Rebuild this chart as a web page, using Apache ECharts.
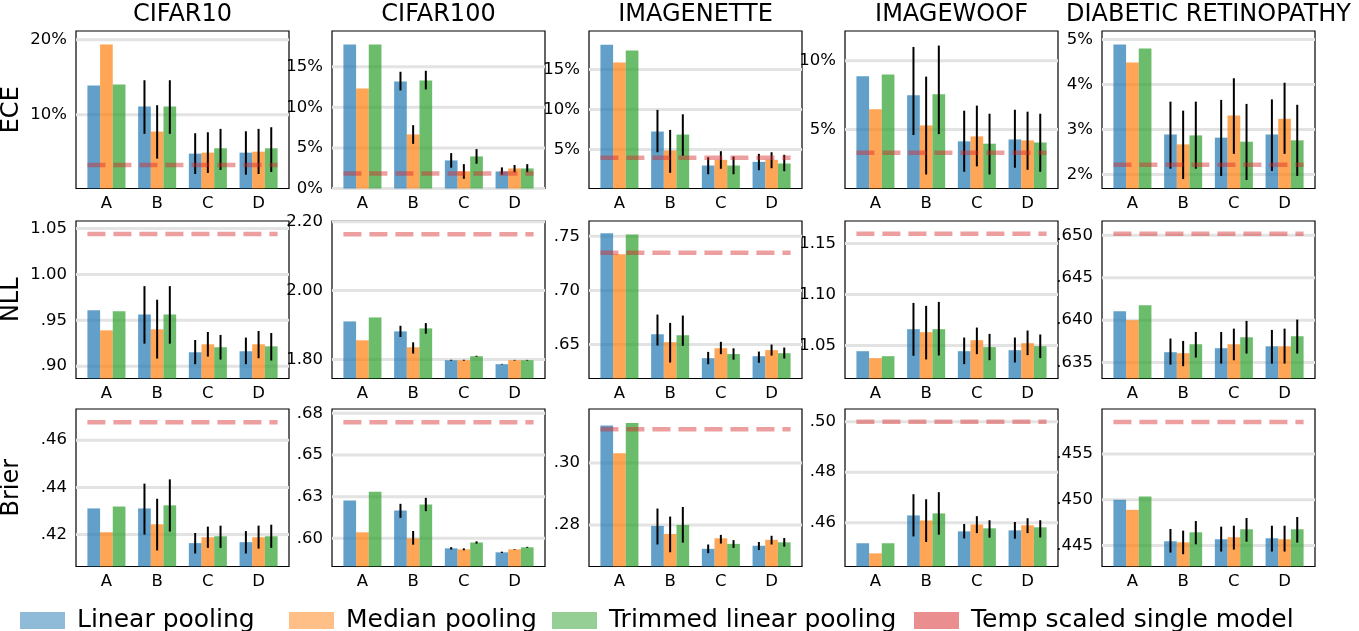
<!DOCTYPE html>
<html><head><meta charset="utf-8">
<script src="https://cdn.jsdelivr.net/npm/echarts@6/dist/echarts.min.js"></script>
<style>html,body{margin:0;padding:0;background:#fff}#c{width:1359px;height:631px}</style>
</head><body><div id="c"></div>
<script>
// ---------------- DATA ----------------
const datasets = ['CIFAR10', 'CIFAR100', 'IMAGENETTE', 'IMAGEWOOF', 'DIABETIC RETINOPATHY'];
const metrics = ['ECE', 'NLL', 'Brier'];
const groups = ['A', 'B', 'C', 'D'];
const methods = ['Linear pooling', 'Median pooling', 'Trimmed linear pooling'];
const baselineName = 'Temp scaled single model';

// ECE (%), per dataset: [method][group]
const eceMean = [
  [[13.9, 11.1, 4.84, 4.97], [19.37, 7.77, 4.97, 5.1], [14.04, 11.1, 5.55, 5.55]],
  [[17.75, 13.19, 3.46, 2.1], [12.33, 6.66, 2.12, 2.47], [17.75, 13.3, 3.95, 2.47]],
  [[18.1, 7.25, 3.0, 3.46], [15.9, 4.87, 3.71, 3.71], [17.4, 6.87, 3.0, 3.25]],
  [[8.86, 7.48, 4.13, 4.27], [6.46, 5.29, 4.49, 4.2], [9.0, 7.55, 3.96, 4.05]],
  [[4.89, 2.89, 2.82, 2.89], [4.49, 2.67, 3.31, 3.24], [4.8, 2.87, 2.73, 2.76]]
];
const eceLow = [
  [[null, 7.47, 2.13, 2.04], [null, 4.17, 2.27, 2.13], [null, 7.47, 2.67, 2.4]],
  [[null, 12.08, 2.56, 1.7], [null, 5.5, 1.2, 2.0], [null, 12.2, 3.05, 2.0]],
  [[null, 4.66, 1.91, 2.41], [null, 2.09, 2.59, 2.66], [null, 4.21, 1.91, 2.29]],
  [[null, 4.59, 1.92, 2.21], [null, 1.72, 2.31, 2.06], [null, 4.66, 1.72, 1.92]],
  [[null, 2.13, 1.97, 2.08], [null, 1.9, 2.46, 2.46], [null, 2.13, 1.88, 1.97]]
];
const eceHigh = [
  [[null, 14.6, 7.55, 7.81], [null, 11.28, 7.68, 8.13], [null, 14.6, 8.13, 8.35]],
  [[null, 14.38, 4.36, 2.6], [null, 7.8, 3.0, 2.9], [null, 14.5, 4.85, 3.0]],
  [[null, 9.96, 4.04, 4.46], [null, 7.46, 4.79, 4.66], [null, 9.41, 4.13, 4.34]],
  [[null, 11.0, 6.36, 6.43], [null, 8.84, 6.73, 6.29], [null, 11.1, 6.14, 6.14]],
  [[null, 3.62, 3.66, 3.67], [null, 3.42, 4.14, 4.04], [null, 3.62, 3.57, 3.55]]
];
const eceBaseline = [3.33, 1.85, 3.96, 3.30, 2.22];
const eceRange = [[0.2, 21.15], [0, 19.4], [0.125, 19.83], [0.7, 12.16], [1.69, 5.19]];
const eceTicks = [[10, 20], [0, 5, 10, 15], [5, 10, 15], [5, 10], [2, 3, 4, 5]];
const eceTickLabels = [['10%', '20%'], ['0%', '5%', '10%', '15%'], ['5%', '10%', '15%'], ['5%', '10%'], ['2%', '3%', '4%', '5%']];

// NLL
const nllMean = [
  [[0.9609, 0.9565, 0.9152, 0.9163], [0.9391, 0.9402, 0.9239, 0.9239], [0.9598, 0.9565, 0.9207, 0.9217]],
  [[1.9106, 1.8817, 1.798, 1.7865], [1.8558, 1.8356, 1.798, 1.798], [1.9221, 1.8904, 1.8096, 1.798]],
  [[0.7528, 0.6595, 0.6374, 0.6392], [0.7334, 0.6522, 0.6466, 0.6448], [0.7518, 0.6586, 0.6412, 0.642]],
  [[1.0444, 1.066, 1.0444, 1.0454], [1.0376, 1.0631, 1.0552, 1.0523], [1.0395, 1.066, 1.0484, 1.0493]],
  [[0.64105, 0.63622, 0.63669, 0.63692], [0.63999, 0.6361, 0.63716, 0.63692], [0.64175, 0.63716, 0.63798, 0.6381]]
];
const nllLow = [
  [[null, 0.9246, 0.9022, 0.9022], [null, 0.9083, 0.9105, 0.9087], [null, 0.9246, 0.9072, 0.9062]],
  [[null, 1.8654, 1.7966, 1.7856], [null, 1.8173, 1.7966, 1.797], [null, 1.875, 1.8082, 1.797]],
  [[null, 0.6491, 0.6318, 0.6331], [null, 0.6334, 0.6411, 0.6398], [null, 0.6488, 0.636, 0.6371]],
  [[null, 1.0399, 1.0317, 1.0333], [null, 1.0363, 1.0415, 1.0405], [null, 1.0402, 1.0356, 1.0376]],
  [[null, 0.63476, 0.63488, 0.63488], [null, 0.63457, 0.63527, 0.63488], [null, 0.63559, 0.63606, 0.63606]]
];
const nllHigh = [
  [[null, 0.9873, 0.9286, 0.9312], [null, 0.9725, 0.9373, 0.9384], [null, 0.9873, 0.9341, 0.9362]],
  [[null, 1.898, 1.7994, 1.7874], [null, 1.85, 1.7994, 1.799], [null, 1.9058, 1.811, 1.799]],
  [[null, 0.6777, 0.6432, 0.6435], [null, 0.67, 0.6525, 0.65], [null, 0.6768, 0.6465, 0.6472]],
  [[null, 1.0918, 1.0578, 1.0578], [null, 1.0889, 1.0676, 1.0647], [null, 1.0928, 1.0614, 1.0608]],
  [[null, 0.63783, 0.63861, 0.63885], [null, 0.63755, 0.639, 0.639], [null, 0.63861, 0.63991, 0.64007]]
];
const nllBaseline = [1.0442, 2.1635, 0.7349, 1.1598, 0.6502];
const nllRange = [[0.8866, 1.0583], [1.745, 2.202], [0.6186, 0.7642], [1.0176, 1.1722], [0.63312, 0.65169]];
const nllTicks = [[0.90, 0.95, 1.00, 1.05], [1.8, 2.0, 2.2], [0.65, 0.70, 0.75], [1.05, 1.10, 1.15], [0.635, 0.640, 0.645, 0.650]];
const nllTickLabels = [['.90', '.95', '1.00', '1.05'], ['1.80', '2.00', '2.20'], ['.65', '.70', '.75'], ['1.05', '1.10', '1.15'], ['.635', '.640', '.645', '.650']];

// Brier
const brierMean = [
  [[0.4311, 0.4311, 0.4164, 0.4168], [0.421, 0.4244, 0.4189, 0.4189], [0.4319, 0.4324, 0.4193, 0.4193]],
  [[0.6227, 0.6167, 0.594, 0.5916], [0.6036, 0.6, 0.5934, 0.5934], [0.628, 0.6203, 0.5975, 0.5946]],
  [[0.3121, 0.2797, 0.2723, 0.2733], [0.3031, 0.2771, 0.2757, 0.2752], [0.3129, 0.28, 0.2739, 0.2744]],
  [[0.4519, 0.4629, 0.4566, 0.457], [0.4479, 0.4609, 0.4593, 0.459], [0.4519, 0.4637, 0.4578, 0.4582]],
  [[0.450, 0.44547, 0.44569, 0.4458], [0.4489, 0.44536, 0.44591, 0.44569], [0.45036, 0.44645, 0.44678, 0.44678]]
];
const brierLow = [
  [[null, 0.42, 0.412, 0.412], [null, 0.4133, 0.4144, 0.4141], [null, 0.4213, 0.4144, 0.4144]],
  [[null, 0.6123, 0.5933, 0.5912], [null, 0.5962, 0.5928, 0.5932], [null, 0.6163, 0.5968, 0.5943]],
  [[null, 0.2737, 0.2709, 0.2719], [null, 0.2712, 0.274, 0.2737], [null, 0.2743, 0.2726, 0.273]],
  [[null, 0.4546, 0.4538, 0.4537], [null, 0.4524, 0.4559, 0.4559], [null, 0.4553, 0.4541, 0.4542]],
  [[null, 0.44424, 0.44435, 0.44435], [null, 0.44406, 0.44457, 0.44435], [null, 0.44514, 0.44543, 0.44533]]
];
const brierHigh = [
  [[null, 0.4416, 0.4207, 0.4215], [null, 0.4352, 0.4234, 0.4238], [null, 0.4434, 0.4238, 0.4242]],
  [[null, 0.6207, 0.5947, 0.592], [null, 0.6044, 0.594, 0.5936], [null, 0.6243, 0.5982, 0.5949]],
  [[null, 0.2853, 0.2737, 0.2745], [null, 0.2827, 0.2768, 0.2765], [null, 0.2858, 0.2751, 0.2758]],
  [[null, 0.4713, 0.4595, 0.4603], [null, 0.4693, 0.4626, 0.4618], [null, 0.4721, 0.461, 0.461]],
  [[null, 0.44681, 0.44707, 0.44717], [null, 0.44663, 0.44717, 0.44717], [null, 0.44768, 0.44801, 0.44812]]
];
const brierBaseline = [0.4676, 0.6696, 0.3109, 0.50, 0.45848];
const brierRange = [[0.4065, 0.4732], [0.5831, 0.6776], [0.2666, 0.3174], [0.4427, 0.505], [0.44272, 0.4599]];
const brierTicks = [[0.42, 0.44, 0.46], [0.6, 0.625, 0.65, 0.675], [0.28, 0.30], [0.46, 0.48, 0.50], [0.445, 0.450, 0.455]];
const brierTickLabels = [['.42', '.44', '.46'], ['.60', '.63', '.65', '.68'], ['.28', '.30'], ['.46', '.48', '.50'], ['.445', '.450', '.455']];

// ---------------- STYLE / LAYOUT ----------------
const FONT = 'DejaVu Sans';
const barColors = ['#1f77b4', '#ff7f0e', '#2ca02c'];
const legendColors = ['#8fbbd9', '#ffbf86', '#95cf95', '#ea8e8f'];
const colLeft = [76, 332, 589, 845, 1102];
const rowTop = [31, 221, 409];
const gridW = 213, gridH = 157.5;
const X_MIN = -0.6, X_MAX = 3.6, BAR_W = 0.25;

const rowsMean = [eceMean, nllMean, brierMean];
const rowsLow = [eceLow, nllLow, brierLow];
const rowsHigh = [eceHigh, nllHigh, brierHigh];
const rowsBase = [eceBaseline, nllBaseline, brierBaseline];
const rowsRange = [eceRange, nllRange, brierRange];
const rowsTicks = [eceTicks, nllTicks, brierTicks];
const rowsTickLabels = [eceTickLabels, nllTickLabels, brierTickLabels];

const grid = [], xAxis = [], yAxis = [], series = [], graphic = [];

for (let r = 0; r < 3; r++) {
  for (let c = 0; c < 5; c++) {
    const idx = r * 5 + c;
    const range = rowsRange[r][c];
    const ticks = rowsTicks[r][c];
    const labels = rowsTickLabels[r][c];
    grid.push({left: colLeft[c], top: rowTop[r], width: gridW, height: gridH,
      show: true, borderColor: '#000', borderWidth: 1.2, backgroundColor: 'transparent'});
    xAxis.push({type: 'value', gridIndex: idx, min: X_MIN, max: X_MAX,
      axisLine: {show: false}, axisTick: {show: false}, splitLine: {show: false},
      axisLabel: {customValues: [0, 1, 2, 3], formatter: v => groups[Math.round(v)],
        fontFamily: FONT, fontSize: 16.5, color: '#000', margin: 7}});
    yAxis.push({type: 'value', gridIndex: idx, min: range[0], max: range[1],
      axisLine: {show: false}, axisTick: {show: false}, splitLine: {show: false},
      axisLabel: {customValues: ticks, formatter: v => {
          let k = 0, best = Infinity;
          ticks.forEach((t, i) => { const d = Math.abs(t - v); if (d < best) { best = d; k = i; } });
          return labels[k];
        }, fontFamily: FONT, fontSize: 16.5, color: '#000', margin: 9}});
    // gridlines
    series.push({type: 'custom', xAxisIndex: idx, yAxisIndex: idx, silent: true, z: 1,
      data: ticks.map(t => [0, t]),
      renderItem: (params, api) => {
        const v = api.value(1);
        const a = api.coord([X_MIN, v]), b = api.coord([X_MAX, v]);
        return {type: 'line', shape: {x1: a[0], y1: a[1], x2: b[0], y2: b[1]},
          style: {stroke: '#e3e3e3', lineWidth: 3}};
      }});
    // bars
    for (let m = 0; m < 3; m++) {
      const mean = rowsMean[r][c][m], lo = rowsLow[r][c][m], hi = rowsHigh[r][c][m];
      const yMin = range[0];
      series.push({type: 'custom', name: methods[m], xAxisIndex: idx, yAxisIndex: idx, z: 2,
        itemStyle: {color: barColors[m]},
        data: mean.map((v, g) => [g, v]),
        renderItem: (params, api) => {
          const g = params.dataIndex;
          const v = mean[g];
          const xc = g + (m - 1) * BAR_W;
          const p0 = api.coord([xc - BAR_W / 2, v]);
          const p1 = api.coord([xc + BAR_W / 2, Math.max(yMin, 0)]);
          const children = [{type: 'rect',
            shape: {x: p0[0], y: p0[1], width: p1[0] - p0[0], height: p1[1] - p0[1]},
            style: {fill: barColors[m], opacity: 0.7}}];
          if (lo[g] != null && hi[g] != null) {
            const a = api.coord([xc, lo[g]]), b = api.coord([xc, hi[g]]);
            children.push({type: 'line', shape: {x1: a[0], y1: a[1], x2: b[0], y2: b[1]},
              style: {stroke: '#000', lineWidth: 2}});
          }
          return {type: 'group', children};
        }});
    }
    // baseline
    const base = rowsBase[r][c];
    series.push({type: 'line', name: baselineName, xAxisIndex: idx, yAxisIndex: idx, z: 3,
      symbol: 'none', silent: true, itemStyle: {color: '#d62728'},
      lineStyle: {color: '#d62728', opacity: 0.45, width: 4.5, type: [18, 8], cap: 'butt'},
      data: [[-0.375, base], [3.375, base]]});
  }
}

// titles
datasets.forEach((d, c) => {
  graphic.push({type: 'text', x: colLeft[c] + gridW / 2, y: 15,
    style: {text: d, font: '24px "' + FONT + '"', fill: '#000', textAlign: 'center', textVerticalAlign: 'middle'}});
});
// row labels
metrics.forEach((mName, r) => {
  graphic.push({type: 'text', x: 12, y: rowTop[r] + gridH / 2, rotation: Math.PI / 2,
    style: {text: mName, font: '24px "' + FONT + '"', fill: '#000', textAlign: 'center', textVerticalAlign: 'middle'}});
});

const legendNames = methods.concat([baselineName]);
const legendLeft = [15, 284, 547, 909];
const legend = legendNames.map((n, i) => ({
  left: legendLeft[i], top: 603, itemWidth: 45, itemHeight: 17, itemGap: 0,
  selectedMode: false,
  textStyle: {fontFamily: FONT, fontSize: 25, color: '#000', padding: [0, 0, 0, 7]},
  data: [{name: n, icon: 'rect', itemStyle: {color: legendColors[i], opacity: 1}}]
}));

const chart = echarts.init(document.getElementById('c'));
chart.setOption({
  animation: false,
  backgroundColor: '#fff',
  textStyle: {fontFamily: FONT},
  grid, xAxis, yAxis, series, graphic, legend
});
</script></body></html>
